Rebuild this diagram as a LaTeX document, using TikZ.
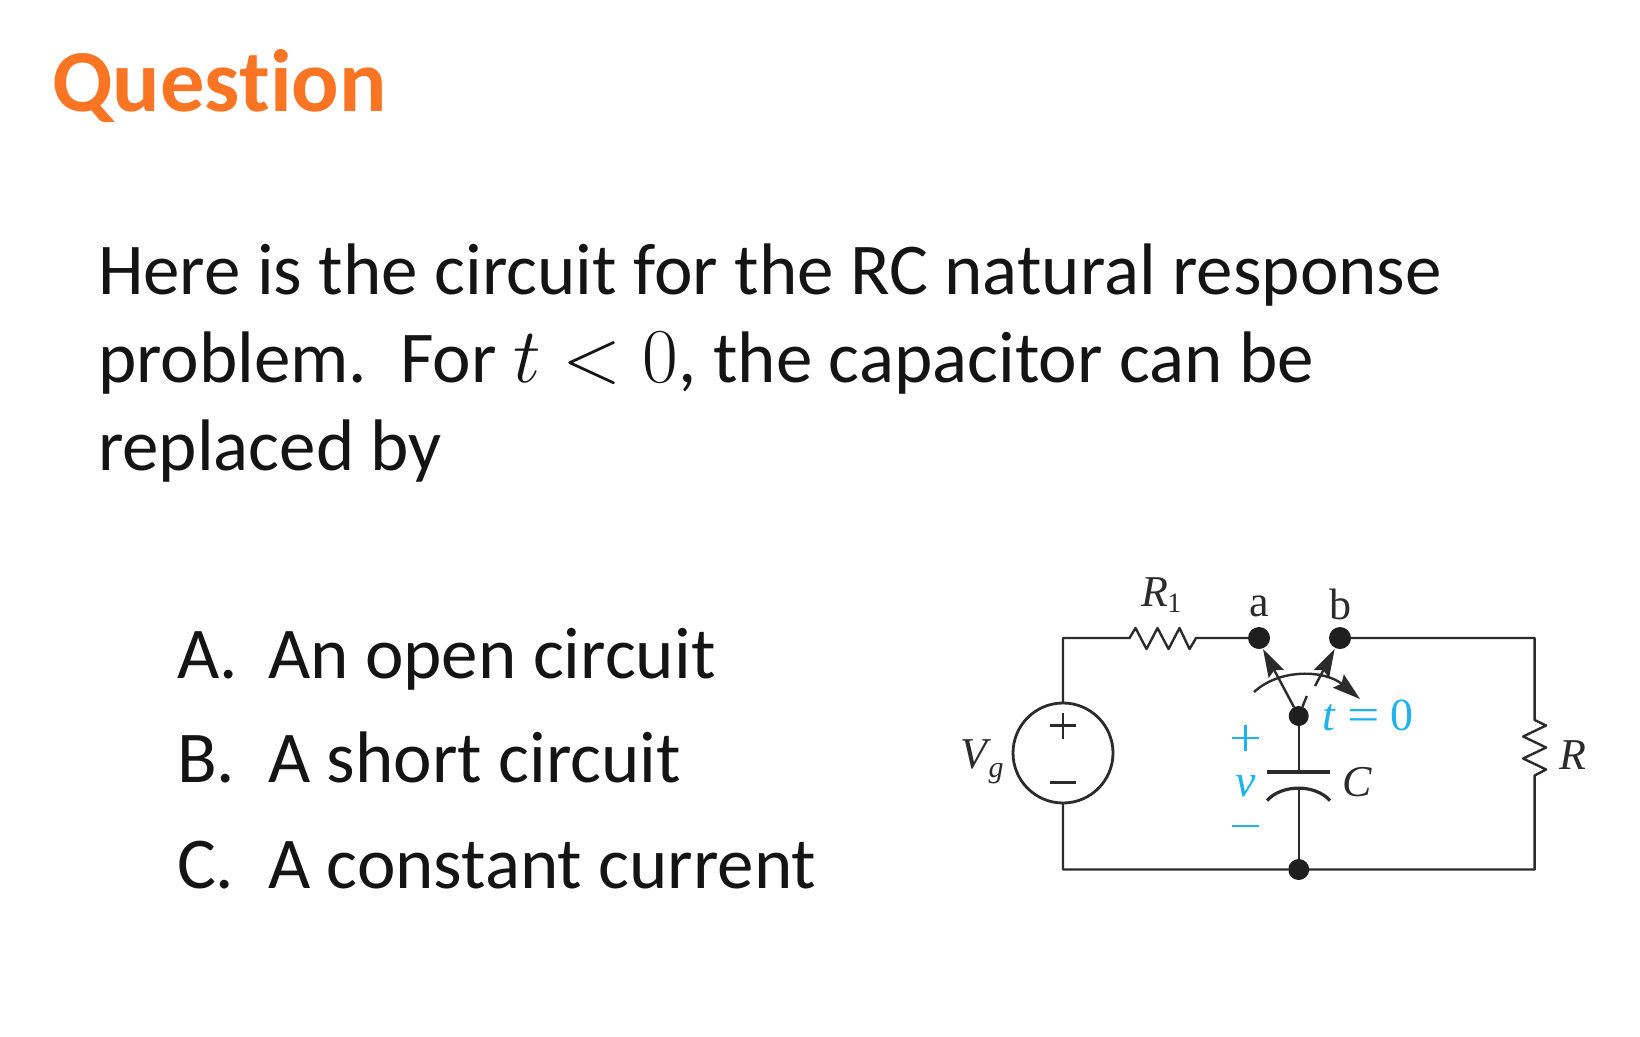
\documentclass[tikz,border=0pt]{standalone}
\usepackage{fontspec}
\setmainfont[Ligatures=CommonOff]{Carlito}
\newfontfamily\cktfont{Liberation Serif}
\usetikzlibrary{arrows.meta}
\definecolor{qorange}{HTML}{F97523}
\definecolor{ckt}{HTML}{2B2B2B}
\definecolor{cblue}{HTML}{1FB2EC}
\tikzset{
  txt/.style={anchor=base west,inner sep=0pt,outer sep=0pt,font=\fontsize{73}{73}\selectfont,text=black!92},
  wire/.style={draw=ckt,line width=2.4pt,line join=round},
  dotn/.style={circle,fill=black!88,inner sep=0pt,outer sep=0pt,minimum size=#1},
  lab/.style={inner sep=0pt,outer sep=0pt,text=ckt,font=\cktfont\fontsize{44}{44}\selectfont},
  blab/.style={inner sep=0pt,outer sep=0pt,text=cblue,font=\cktfont\fontsize{46}{46}\selectfont},
  swtip/.style={-{Stealth[length=28pt,width=17pt,inset=4pt]},draw=ckt,line width=2.4pt,shorten >=0pt},
  sign/.style={line width=2.6pt}
}
\begin{document}
\begin{tikzpicture}[x=1pt,y=-1pt]
\useasboundingbox (0,0) rectangle (1640,1036);
\node[anchor=base west,inner sep=0pt,text=qorange,font=\fontsize{88.5}{88}\selectfont\bfseries] (title) at (52,111) {Question};
\node[txt] (l1) at (98,294) {Here is the circuit for the RC natural response};
\node[txt] (l2) at (98,382) {problem.\ \ For \scalebox{3.12}{$t<0$}, the capacitor can be};
\node[txt] (l3) at (98,470) {replaced by};
\node[txt] (al) at (177,678) {A.};
\node[txt] (at) at (268,678) {An open circuit};
\node[txt] (bl) at (177,782) {B.};
\node[txt] (bt) at (268,782) {A short circuit};
\node[txt] (cl) at (177,888) {C.};
\node[txt] (ct) at (268,888) {A constant current};
% circuit nodes
\node[circle,draw=ckt,line width=2.8pt,minimum size=100pt,inner sep=0pt,outer sep=0pt] (src) at (1063,753) {};
\node[dotn=22pt] (a) at (1259,638) {};
\node[dotn=22pt] (b) at (1340,638) {};
\node[dotn=20pt] (sw) at (1298.7,716) {};
\node[dotn=21pt] (gnd) at (1298.7,869.5) {};
\coordinate (tl) at (1063,638);
\coordinate (tr) at (1534.6,638);
\coordinate (bl) at (1063,869.5);
\coordinate (br) at (1534.6,869.5);
\coordinate (capt) at (1298.7,772);
\coordinate (capb) at (1298.7,788);
\coordinate (r1l) at (1129.5,638);
\coordinate (r1r) at (1195.7,638);
\coordinate (rt) at (1534.6,720);
\coordinate (rb) at (1534.6,787);
\coordinate (swb) at (1306.8,696);
\coordinate (swc) at (1315,686);
\coordinate (bt2) at (1334.6,649);
\coordinate (at2) at (1263,649);
\coordinate (arcs) at (1254,692);
\coordinate (arce) at (1360,699);
% wires
\draw[wire] (src.north) -- (tl) -- (r1l)
  -- ++(6,-10) -- ++(11,21) -- ++(11,-21) -- ++(11,21) -- ++(11,-21) -- ++(10,21) -- ++(6,-10)
  -- (r1r) -- (a);
\draw[wire] (b) -- (tr) -- (rt)
  -- ++(11.5,5.5) -- ++(-23,11) -- ++(23,11) -- ++(-23,11) -- ++(23,11) -- ++(-11.5,6) -- (rb)
  -- (br) -- (gnd) -- (bl) -- (src.south);
\draw[wire] (sw) -- (capt);
\draw[wire,line width=3.2pt] (1267,772) -- (1329.5,772);
\draw[wire,line width=3.2pt] (1267,800.5) .. controls (1282,784) and (1315,784) .. (1330,800.5);
\draw[wire] (capb) -- (gnd);
% switch
\draw[swtip] (sw) -- (at2);
\draw[wire] (sw) -- (swb);
\draw[swtip] (swc) -- (bt2);
\draw[swtip] (arcs) .. controls (1280,668) and (1325,670) .. (arce);
% signs
\draw[ckt,sign] (1050,725.7) -- (1076,725.7) (1063,712.5) -- (1063,739);
\draw[ckt,sign] (1050,782.7) -- (1076,782.7);
\draw[cblue,sign] (1232,738) -- (1259,738) (1245.7,725) -- (1245.7,751);
\draw[cblue,sign] (1232,826) -- (1259,826);
% labels
\node[lab] (lR1) at (1161.5,595) {\textit{R}\kern-1pt\raisebox{-6pt}{\fontsize{28}{28}\selectfont 1}};
\node[lab] (la) at (1259,606) {a};
\node[lab] (lb) at (1340,604) {b};
\node[lab] (lV) at (975.6,754) {\textit{V}};
\node[lab,font=\cktfont\fontsize{30}{30}\selectfont\itshape] (lg) at (996,774) {g};
\node[lab] (lC) at (1357,782) {\textit{C}};
\node[lab] (lR) at (1573,755) {\textit{R}};
\node[blab] (lv) at (1245.7,786) {\textit{v}};
\node[blab] (lt) at (1368,715) {\textit{t}\hspace{11pt}\scalebox{1.25}[1]{=}\hspace{11pt}0};
\end{tikzpicture}
\end{document}
